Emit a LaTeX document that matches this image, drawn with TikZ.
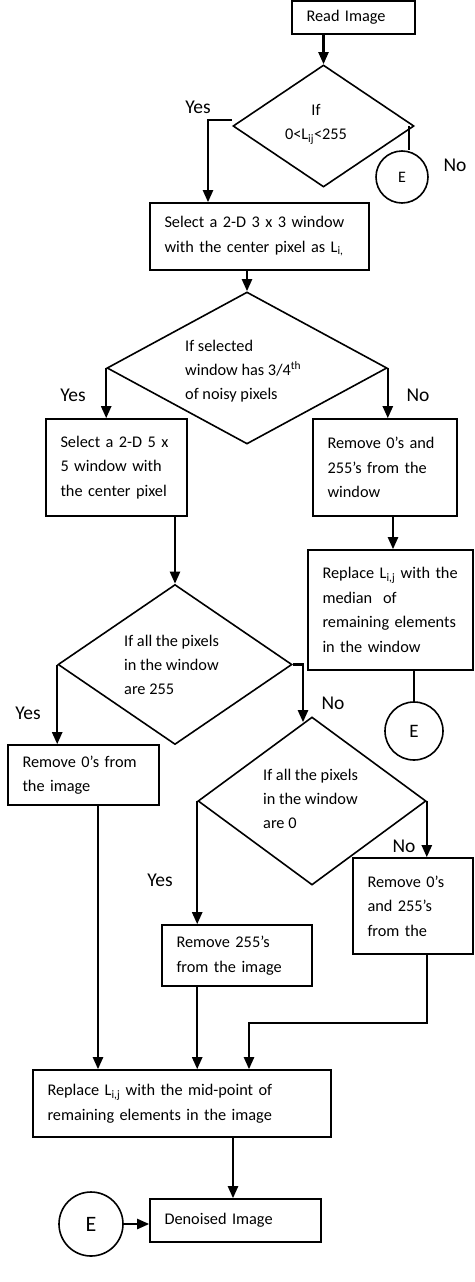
\documentclass[tikz,border=0pt]{standalone}
\usepackage{fontspec}
\setmainfont{Carlito}
\usetikzlibrary{arrows.meta,shapes.geometric,calc}
\begin{document}
\begin{tikzpicture}[x=1pt,y=-1pt,
  font=\fontsize{16.3}{24.5}\selectfont,
  box/.style={draw,line width=1.6pt,rectangle,inner xsep=14.5pt,inner ysep=0pt,align=left},
  dia/.style={draw,line width=1.6pt,diamond,inner sep=0pt},
  ecirc/.style={draw,line width=1.6pt,circle,inner sep=0pt},
  conn/.style={line width=2.2pt},
  arr/.style={line width=2.2pt,-{Triangle[length=12pt,width=10pt]}},
  lbl/.style={inner sep=0pt,font=\fontsize{19.5}{22}\selectfont},
  dtext/.style={inner sep=0pt,align=left,anchor=west,font=\fontsize{16.3}{24}\selectfont}
]
\useasboundingbox (0,0) rectangle (474,1282);

% boxes
\node[box,text width=94pt,minimum height=33pt] (read) at (353.5,17.5) {\raisebox{-3pt}{Read Image}};
\node[box,text width=190pt,minimum height=67pt] (sel3) at (259.5,236.5) {Select a 2-D 3 x 3 window\\with the center pixel as L\textsubscript{i,}};
\node[box,text width=112pt,minimum height=97pt] (sel5) at (116.5,467.5) {Select a 2-D 5 x\\5 window with\\the center pixel};
\node[box,text width=115pt,minimum height=97pt] (rem1) at (385,467.5) {Remove 0’s and\\255’s from the\\window};
\node[box,text width=136pt,minimum height=120pt] (repmed) at (390.5,610) {Replace L\textsubscript{i,j} with the\\median\ \ of\\remaining elements\\in the window};
\node[box,text width=122pt,minimum height=60pt] (rem0) at (83.5,775) {Remove 0’s from\\the image};
\node[box,text width=121pt,minimum height=61pt] (rem255) at (237,955.5) {Remove 255’s\\from the image};
\node[box,text width=91pt,minimum height=96pt] (rem02) at (413,906) {Remove 0’s\\and 255’s\\from the};
\node[box,text width=269pt,minimum height=67pt] (mid) at (182,1103.5) {Replace L\textsubscript{i,j} with the mid-point of\\remaining elements in the image};
\node[box,text width=142pt,minimum height=43pt] (den) at (235.5,1220.5) {Denoised Image};

% diamonds
\node[dia,minimum width=181pt,minimum height=122pt] (d1) at (323.5,126) {};
\node[dia,minimum width=280pt,minimum height=152pt] (d2) at (247,368) {};
\node[dia,minimum width=234pt,minimum height=160pt] (d3) at (175,664.5) {};
\node[dia,minimum width=228pt,minimum height=168pt] (d4) at (312,801) {};

\node[inner sep=0pt,align=center,font=\fontsize{16.3}{24}\selectfont] (t1) at (316,124.5) {If\\0<L\textsubscript{ij}<255};
\node[dtext] (t2) at (185,371) {If selected\\window has 3/4\textsuperscript{th}\\of noisy pixels};
\node[dtext] (t3) at (124,665) {If all the pixels\\in the window\\are 255};
\node[dtext] (t4) at (263,799) {If all the pixels\\in the window\\are 0};

% circles
\node[ecirc,minimum size=52pt,font=\fontsize{16}{18}\selectfont] (e1) at (402,177) {E};
\node[ecirc,minimum size=58pt,font=\fontsize{19}{20}\selectfont] (e2) at (414,731) {E};
\node[ecirc,minimum size=64pt,font=\fontsize{22}{24}\selectfont] (e3) at (91,1224) {E};

% labels
\node[lbl] (yes1) at (198,107) {Yes};
\node[lbl] (no1) at (455,165) {No};
\node[lbl] (yes2) at (73,395) {Yes};
\node[lbl] (no2) at (418,395) {No};
\node[lbl] (yes3) at (28,713) {Yes};
\node[lbl] (no3) at (333,703) {No};
\node[lbl] (yes4) at (160,880) {Yes};
\node[lbl] (no4) at (404,846) {No};

% helper coordinates
\coordinate (y1) at (208,120);
\coordinate (n1) at (409,126);
\coordinate (cr) at (393,0);
\coordinate (c0) at (98,0);
\coordinate (cm) at (233,0);
\coordinate (j) at (249,1023);

% connectors
\draw[arr] (read.south -| d1.north) -- (d1.north);
\draw[arr] (d1.west |- y1) -- (y1) -- (y1 |- sel3.north);
\draw[conn] (n1) -- (n1 |- e1.north);
\draw[arr] (sel3.south -| d2.north) -- (d2.north);
\draw[arr] (d2.west) -- (d2.west |- sel5.north);
\draw[arr] (d2.east) -- (d2.east |- rem1.north);
\draw[arr] (rem1.south -| cr) -- (repmed.north -| cr);
\draw[conn] (repmed.south -| e2) -- (e2.north);
\draw[arr] (sel5.south -| d3.north) -- (d3.north);
\draw[arr] (d3.west) -- (d3.west |- rem0.north);
\draw[arr] (d3.east) -| ([xshift=-9pt,yshift=-6pt]d4.north);
\draw[arr] (d4.west) -- (d4.west |- rem255.north);
\draw[arr] (d4.east) -- (d4.east |- rem02.north);
\draw[arr] (rem0.south -| c0) -- (mid.north -| c0);
\draw[arr] (rem255.south -| d4.west) -- (mid.north -| d4.west);
\draw[arr] (rem02.south -| d4.east) -- (d4.east |- j) -- (j) -- (j |- mid.north);
\draw[arr] (mid.south -| cm) -- (den.north -| cm);
\draw[arr] (e3.east) -- (e3.east -| den.west);
\end{tikzpicture}
\end{document}
